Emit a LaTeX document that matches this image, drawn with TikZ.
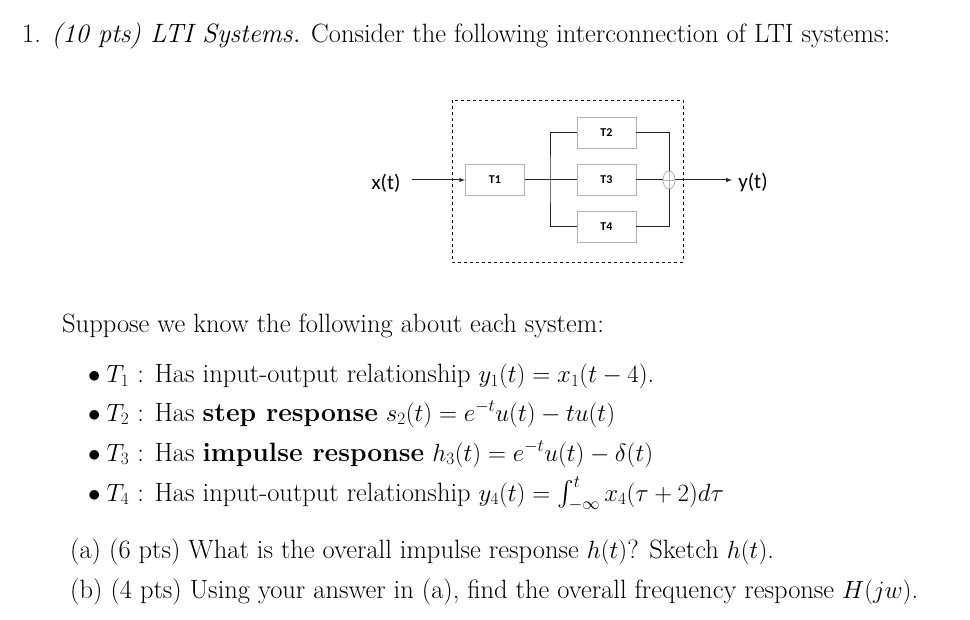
\documentclass[tikz,border=0pt]{standalone}
\usepackage{amsmath}
\usepackage{fontspec}
\usetikzlibrary{shapes.geometric}
\newfontfamily\diag{Carlito}
\begin{document}
\begin{tikzpicture}[x=1pt,y=-1pt,
  blk/.style={draw=gray!60,line width=0.9pt,minimum width=59pt,minimum height=31pt,inner sep=0pt,font=\diag\bfseries\fontsize{12}{13}\selectfont},
  wire/.style={line width=1pt,draw=black!85},
  txt/.style={anchor=base west,inner sep=0pt,font=\fontsize{26.5}{30}\selectfont}]
\useasboundingbox (0,0) rectangle (970,620);
\draw[dashed,line width=0.7pt] (452,100) rectangle (683,262);
\node[blk] (t1) at (495,180) {T1};
\node[blk] (t2) at (606.5,132.5) {T2};
\node[blk] (t3) at (606.5,180) {T3};
\node[blk] (t4) at (606.5,227) {T4};
\node[ellipse,draw=gray!60,line width=0.8pt,minimum width=12pt,minimum height=18pt,inner sep=0pt] (s) at (669,180) {};
\draw[gray!60,line width=0.8pt] (s.north) -- (s.south) (s.west)--(s.east);
\node[font=\diag\fontsize{21}{24}\selectfont,inner sep=0pt] (x) at (386,183) {x(t)};
\node[font=\diag\fontsize{21}{24}\selectfont,inner sep=0pt] (y) at (753,183) {y(t)};
\coordinate (xs) at (412,180);
\coordinate (ye) at (732,180);
\coordinate (jl) at (550,180);
\draw[wire,-latex] (xs) -- (t1.west);
\draw[wire] (t1.east) -- (t3.west);
\draw[wire] (t2.west) -| (jl) |- (t4.west);
\draw[wire] (t2.east) -| (s.north);
\draw[wire] (t4.east) -| (s.south);
\draw[wire] (t3.east) -- (s.west);
\draw[wire,-latex] (s.east) -- (ye);
\node[txt] (l1) at (22,43) {1. \textit{(10 pts) LTI Systems.} Consider the following interconnection of LTI systems:};
\node[txt] (l2) at (62,333) {Suppose we know the following about each system:};
\node[txt] (b1) at (88,383) {$\bullet$\hspace{6pt}$T_1$ : Has input-output relationship $y_1(t)=x_1(t-4)$.};
\node[txt] (b2) at (88,421) {$\bullet$\hspace{6pt}$T_2$ : Has \textbf{step response} $s_2(t)=e^{-t}u(t)-tu(t)$};
\node[txt] (b3) at (88,461) {$\bullet$\hspace{6pt}$T_3$ : Has \textbf{impulse response} $h_3(t)=e^{-t}u(t)-\delta(t)$};
\node[txt] (b4) at (88,501) {$\bullet$\hspace{6pt}$T_4$ : Has input-output relationship $y_4(t)=\int_{-\infty}^{t}x_4(\tau+2)d\tau$};
\node[txt] (qa) at (70,558) {(a)\ (6 pts) What is the overall impulse response $h(t)$? Sketch $h(t)$.};
\node[txt] (qb) at (70,598) {(b)\ (4 pts) Using your answer in (a), find the overall frequency response $H(jw)$.};
\end{tikzpicture}
\end{document}
